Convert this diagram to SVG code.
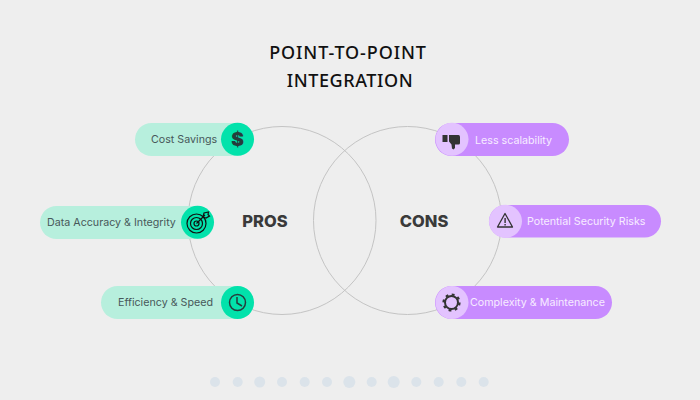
<svg xmlns="http://www.w3.org/2000/svg" width="700" height="400" viewBox="0 0 700 400">
<style>
.title{font:500 18px "Noto Sans",sans-serif;fill:#111;letter-spacing:0.9px;text-anchor:middle}
.big{font:800 16.500px Inter,sans-serif;fill:#3a3a3a;text-anchor:middle}
.lg{font:400 10.700px Inter,sans-serif;fill:#47585a}
.lp{font:400 10.700px Inter,sans-serif;fill:#f7ecff}
.pg{fill:#b7efdd}.cg{fill:#02e2ab}.pp{fill:#c88bff}.cp{fill:#e3c3ff}
.ring{fill:none;stroke:#c4c4c4;stroke-width:1}
.dot{fill:#dbe3ea}
.ig{fill:none;stroke:#263c3c;stroke-width:1.5}
.ik{fill:none;stroke:#111;stroke-width:1.2}
.id{fill:#333;stroke:none}
</style>
<rect width="700" height="400" fill="#eeeeee"/>
<text class="title" x="348" y="59">POINT-TO-POINT</text>
<text class="title" x="350" y="87" style="letter-spacing:0.6px">INTEGRATION</text>
<g id="connectors">
<circle class="ring" cx="282" cy="220.500" r="94"/>
<circle class="ring" cx="407.500" cy="220.500" r="94"/>
</g>
<text class="big" x="265" y="227">PROS</text>
<text class="big" x="424" y="227">CONS</text>
<g id="cost-savings">
<rect class="pg" x="135" y="123" width="119" height="33" rx="16.500"/>
<circle class="cg" cx="237.500" cy="139.300" r="16.500"/>
<text class="lg" x="151" y="143">Cost Savings</text>
<text x="237.500" y="146" text-anchor="middle" style="font:900 19px Inter,sans-serif;fill:#263c3c">$</text>
</g>
<g id="data-accuracy">
<rect class="pg" x="40" y="206" width="174" height="33" rx="16.500"/>
<circle class="cg" cx="197.500" cy="222.300" r="16.500"/>
<text class="lg" x="47" y="226">Data Accuracy &amp; Integrity</text>
<g class="ik">
<circle cx="196.500" cy="223.500" r="9.500"/><circle cx="196.500" cy="223.500" r="6"/><circle cx="196.500" cy="223.500" r="2.500"/>
<path d="M196.500 223.500L205 215M204 213l-1 4 3 1 3.500-2-1.500-1.500 0.500-2.500z"/>
</g>
</g>
<g id="efficiency">
<rect class="pg" x="101" y="286" width="153" height="33" rx="16.500"/>
<circle class="cg" cx="237.500" cy="302.500" r="16.500"/>
<text class="lg" x="118" y="306">Efficiency &amp; Speed</text>
<circle class="ig" cx="237.500" cy="302.500" r="8"/>
<path class="ig" d="M237 297v6l5 3"/>
</g>
<g id="less-scalability">
<rect class="pp" x="435" y="123" width="134" height="33" rx="16.500"/>
<circle class="cp" cx="452" cy="139.300" r="16.500"/>
<text class="lp" x="475" y="144">Less scalability</text>
<path class="id" d="M442.500 135h5v7h-5zM449 135h9.500q1.500 0 1.500 2v6q0 1.500-1.500 1.500h-3.500v3.500l-1.500 1.500-1.500-1-0.500-4-2.500-3z"/>
</g>
<g id="security-risks">
<rect class="pp" x="489" y="205" width="172" height="32.500" rx="16.250"/>
<circle class="cp" cx="505.500" cy="221.300" r="16.500"/>
<text class="lp" x="527" y="225">Potential Security Risks</text>
<path d="M505 213.500l-7.500 13.500h15z" fill="none" stroke="#333" stroke-width="1.300" stroke-linejoin="round"/>
<path class="id" d="M504.400 218h1.400v5h-1.400zM504.400 224h1.400v1.500h-1.400z"/>
</g>
<g id="complexity">
<rect class="pp" x="435" y="286" width="177" height="33" rx="16.500"/>
<circle class="cp" cx="452" cy="302.500" r="16.500"/>
<text class="lp" x="470" y="306">Complexity &amp; Maintenance</text>
<circle cx="451.500" cy="302.500" r="6.500" fill="none" stroke="#333" stroke-width="2"/>
<circle cx="451.500" cy="302.500" r="8" fill="none" stroke="#333" stroke-width="2.200" stroke-dasharray="2.800 3.480"/>
</g>
<g id="dots">
<circle class="dot" cx="215" cy="382" r="5"/>
<circle class="dot" cx="237.700" cy="382" r="5"/>
<circle class="dot" cx="259.700" cy="382" r="5.500"/>
<circle class="dot" cx="282" cy="382" r="5"/>
<circle class="dot" cx="304.700" cy="382" r="5"/>
<circle class="dot" cx="327" cy="382" r="5"/>
<circle class="dot" cx="349.300" cy="382" r="6"/>
<circle class="dot" cx="371.700" cy="382" r="5"/>
<circle class="dot" cx="393.700" cy="382" r="6"/>
<circle class="dot" cx="416.300" cy="382" r="5"/>
<circle class="dot" cx="438.700" cy="382" r="5"/>
<circle class="dot" cx="461.300" cy="382" r="5"/>
<circle class="dot" cx="483.700" cy="382" r="5"/>
</g>
</svg>
